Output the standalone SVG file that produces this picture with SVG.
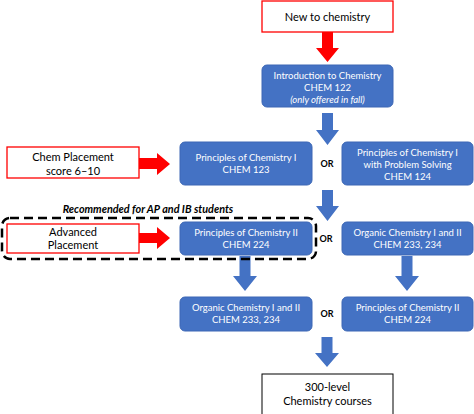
<svg xmlns="http://www.w3.org/2000/svg" width="474" height="414" viewBox="0 0 474 414">
<style>
.blue{fill:#4472C4;stroke:#3C67B5;stroke-width:1}
.wt{fill:#fff;font-family:Lato,"Liberation Sans",sans-serif;font-size:9.5px;text-anchor:middle}
.bt{fill:#000;font-family:Lato,"Liberation Sans",sans-serif;font-size:11px;text-anchor:middle}
.redbox{fill:#fff;stroke:#FF0000;stroke-width:1.3}
.or{fill:#000;font-family:Lato,"Liberation Sans",sans-serif;font-size:9px;font-weight:bold;text-anchor:middle}
.ra{fill:#FF0000}
.ba{fill:#4472C4}
</style>
<rect width="474" height="414" fill="#fff"/>
<g id="connectors">
<path class="ra" d="M322,32 H333 V48 H339 L327.5,62 L316,48 H322 Z"/>
<path class="ba" d="M322,113 H333 V130 H339 L327.5,145 L316,130 H322 Z"/>
<path class="ba" d="M322,190 H333 V206 H339 L327.5,221 L316,206 H322 Z"/>
<path class="ba" d="M239.5,256 H250.5 V276 H257 L245,291 L233,276 H239.5 Z"/>
<path class="ba" d="M401.5,256 H412.5 V276 H419 L407,291 L395,276 H401.5 Z"/>
<path class="ba" d="M321.5,337 H332.5 V353 H339 L327,367 L315,353 H321.5 Z"/>
<path class="ra" d="M139,158 H157 V153 L170,164 L157,175 V169 H139 Z"/>
<path class="ra" d="M139,233 H157 V227 L170,238 L157,249 V243 H139 Z"/>
</g>
<g id="ap-group">
<rect x="2" y="218" width="314" height="41" rx="8" fill="none" stroke="#000" stroke-width="2.5" stroke-dasharray="9,5"/>
<text x="148" y="213" font-family="Lato,'Liberation Sans',sans-serif" font-size="10.8" font-weight="bold" font-style="italic" text-anchor="middle">Recommended for AP and IB students</text>
</g>
<g id="new">
<rect class="redbox" x="262" y="1" width="131" height="31"/>
<text class="bt" x="327.5" y="20.5" font-size="13">New to chemistry</text>
</g>
<g id="intro">
<rect class="blue" x="262" y="65" width="131" height="42" rx="5"/>
<text class="wt" x="327.5" y="78.5">Introduction to Chemistry</text>
<text class="wt" x="327.5" y="90.5">CHEM 122</text>
<text class="wt" x="327.5" y="102.5" font-style="italic">(only offered in fall)</text>
</g>
<g id="placement">
<rect class="redbox" x="7" y="147" width="132" height="31"/>
<text class="bt" x="73" y="160.5">Chem Placement</text>
<text class="bt" x="73" y="174.5">score 6–10</text>
</g>
<g id="chem123">
<rect class="blue" x="180" y="142" width="132" height="43" rx="5"/>
<text class="wt" x="246" y="160.5">Principles of Chemistry I</text>
<text class="wt" x="246" y="172.5">CHEM 123</text>
</g>
<text class="or" x="327" y="166.5">OR</text>
<g id="chem124">
<rect class="blue" x="342" y="142" width="131" height="43" rx="5"/>
<text class="wt" x="407.5" y="155.5">Principles of Chemistry I</text>
<text class="wt" x="407.5" y="167.5">with Problem Solving</text>
<text class="wt" x="407.5" y="179.5">CHEM 124</text>
</g>
<g id="ap">
<rect class="redbox" x="7" y="224" width="132" height="29"/>
<text class="bt" x="73" y="235.5">Advanced</text>
<text class="bt" x="73" y="249">Placement</text>
</g>
<g id="chem224a">
<rect class="blue" x="180" y="222" width="132" height="33" rx="5"/>
<text class="wt" x="246" y="235.5">Principles of Chemistry II</text>
<text class="wt" x="246" y="247.5">CHEM 224</text>
</g>
<text class="or" x="326" y="241.5">OR</text>
<g id="chem233a">
<rect class="blue" x="342" y="222" width="131" height="33" rx="5"/>
<text class="wt" x="407.5" y="235.5">Organic Chemistry I and II</text>
<text class="wt" x="407.5" y="247.5">CHEM 233, 234</text>
</g>
<g id="chem233b">
<rect class="blue" x="180" y="297" width="132" height="34" rx="5"/>
<text class="wt" x="246" y="310.5">Organic Chemistry I and II</text>
<text class="wt" x="246" y="322.5">CHEM 233, 234</text>
</g>
<text class="or" x="327" y="317">OR</text>
<g id="chem224b">
<rect class="blue" x="342" y="297" width="131" height="34" rx="5"/>
<text class="wt" x="407.5" y="310.5">Principles of Chemistry II</text>
<text class="wt" x="407.5" y="322.5">CHEM 224</text>
</g>
<g id="level300">
<rect x="262" y="374" width="131" height="45" fill="#fff" stroke="#000" stroke-width="1"/>
<text class="bt" x="327.5" y="391" font-size="10">300-level</text>
<text class="bt" x="327.5" y="405" font-size="10">Chemistry courses</text>
</g>
</svg>
